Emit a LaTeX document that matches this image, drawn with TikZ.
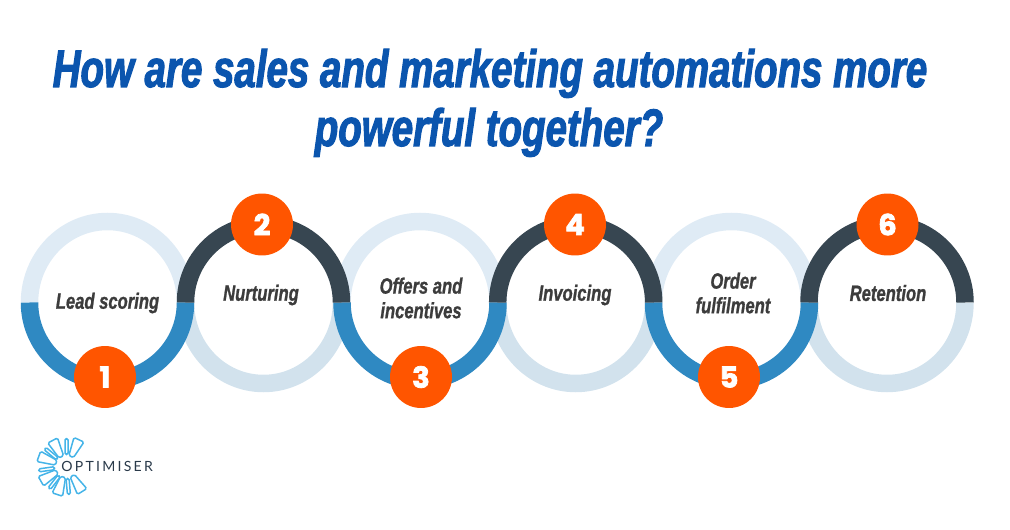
\documentclass[tikz,border=0pt]{standalone}
\usepackage{fontspec}
\setmainfont{Liberation Sans}[FakeStretch=0.75, BoldItalicFeatures={FakeBold=1}]
\newfontfamily\titlefont{Liberation Sans}[FakeStretch=0.73, BoldItalicFeatures={FakeBold=2}]
\newfontfamily\numfont{Poppins}[BoldFeatures={FakeBold=2.5}]
\newfontfamily\logofont{Lato}
\definecolor{lightTop}{HTML}{DFEBF5}
\definecolor{lightBot}{HTML}{D2E2ED}
\definecolor{ringBlue}{HTML}{2F89C2}
\definecolor{ringDark}{HTML}{374651}
\definecolor{badgeRed}{HTML}{FF5500}
\definecolor{labelGrey}{HTML}{3C3C3C}
\definecolor{titleBlue}{HTML}{0B55AE}
\definecolor{logoBlue}{HTML}{45B4E8}
\definecolor{logoDark}{HTML}{2A3A4A}
\tikzset{
  ring/.style={line width=0.35cm, line cap=butt},
  badge/.style={circle, fill=badgeRed, minimum size=1.24cm, inner sep=0pt, text=white, font=\numfont\bfseries\fontsize{16.5}{16.5}\selectfont},
  steplabel/.style={align=center, text=labelGrey, font=\bfseries\itshape\fontsize{12.6}{14}\selectfont},
  titleline/.style={anchor=base, inner sep=0pt, text=titleBlue, font=\titlefont\bfseries\itshape\fontsize{30}{30}\selectfont},
  logopart/.style={draw=logoBlue, line width=0.03cm, rounded corners=0.03cm}
}
\begin{document}
\begin{tikzpicture}[x=0.02cm, y=-0.02cm]
\useasboundingbox (0,0) rectangle (1010,530);
\node[titleline] (titleA) at (490,87) {How are sales and marketing automations more};
\node[titleline] (titleB) at (489,146) {powerful together?};
% light halves first
\foreach \cx in {107.5,420,731.5} \draw[ring, lightTop] (\cx-78,302.5) arc[start angle=180, end angle=360, x radius=78, y radius=81];
\foreach \cx in {263.5,575.7,887} \draw[ring, lightBot] (\cx-78,302.5) arc[start angle=180, end angle=0, x radius=78, y radius=81];
% coloured halves
\foreach \cx in {107.5,420,731.5} \draw[ring, ringBlue] (\cx-78,302.5) arc[start angle=180, end angle=0, x radius=78, y radius=78];
\foreach \cx in {263.5,575.7,887} \draw[ring, ringDark] (\cx-78,302.5) arc[start angle=180, end angle=360, x radius=78, y radius=78];
\node[badge] (one)   at (105,377) {1};
\node[badge] (two)   at (262,224.5) {2};
\node[badge] (three) at (421,377) {3};
\node[badge] (four)  at (575,224.5) {4};
\node[badge] (five)  at (729,377) {5};
\node[badge] (six)   at (887.5,224.5) {6};
\node[steplabel] (lead)   at (107.5,303) {Lead scoring};
\node[steplabel] (nurt)   at (261,295) {Nurturing};
\node[steplabel] (offers) at (421,298) {Offers and\\incentives};
\node[steplabel] (invo)   at (575,295) {Invoicing};
\node[steplabel] (order)  at (733,293) {Order\\fulfilment};
\node[steplabel] (reten)  at (888,293) {Retention};
% logo
\foreach \a in {-65,-118,-160,150,108,58}
  \draw[logopart, shift={(66.5,466.5)}, rotate=-\a] (11,-2.5) -- (29.5,-5.5) -- (29.5,5.5) -- (11,2.5) -- cycle;
\foreach \a in {-90,-140,172,128,85}
  \draw[logopart, shift={(66.5,466.5)}, rotate=-\a] (12,-1.5) -- (28,-1.5) -- (28,1.5) -- (12,1.5) -- cycle;
\node[text=logoDark, font=\logofont\fontsize{8}{8}\selectfont, anchor=west, inner sep=0pt] (logotext) at (61,466.7) {\addfontfeature{LetterSpace=16}OPTIMISER};
\end{tikzpicture}
\end{document}
